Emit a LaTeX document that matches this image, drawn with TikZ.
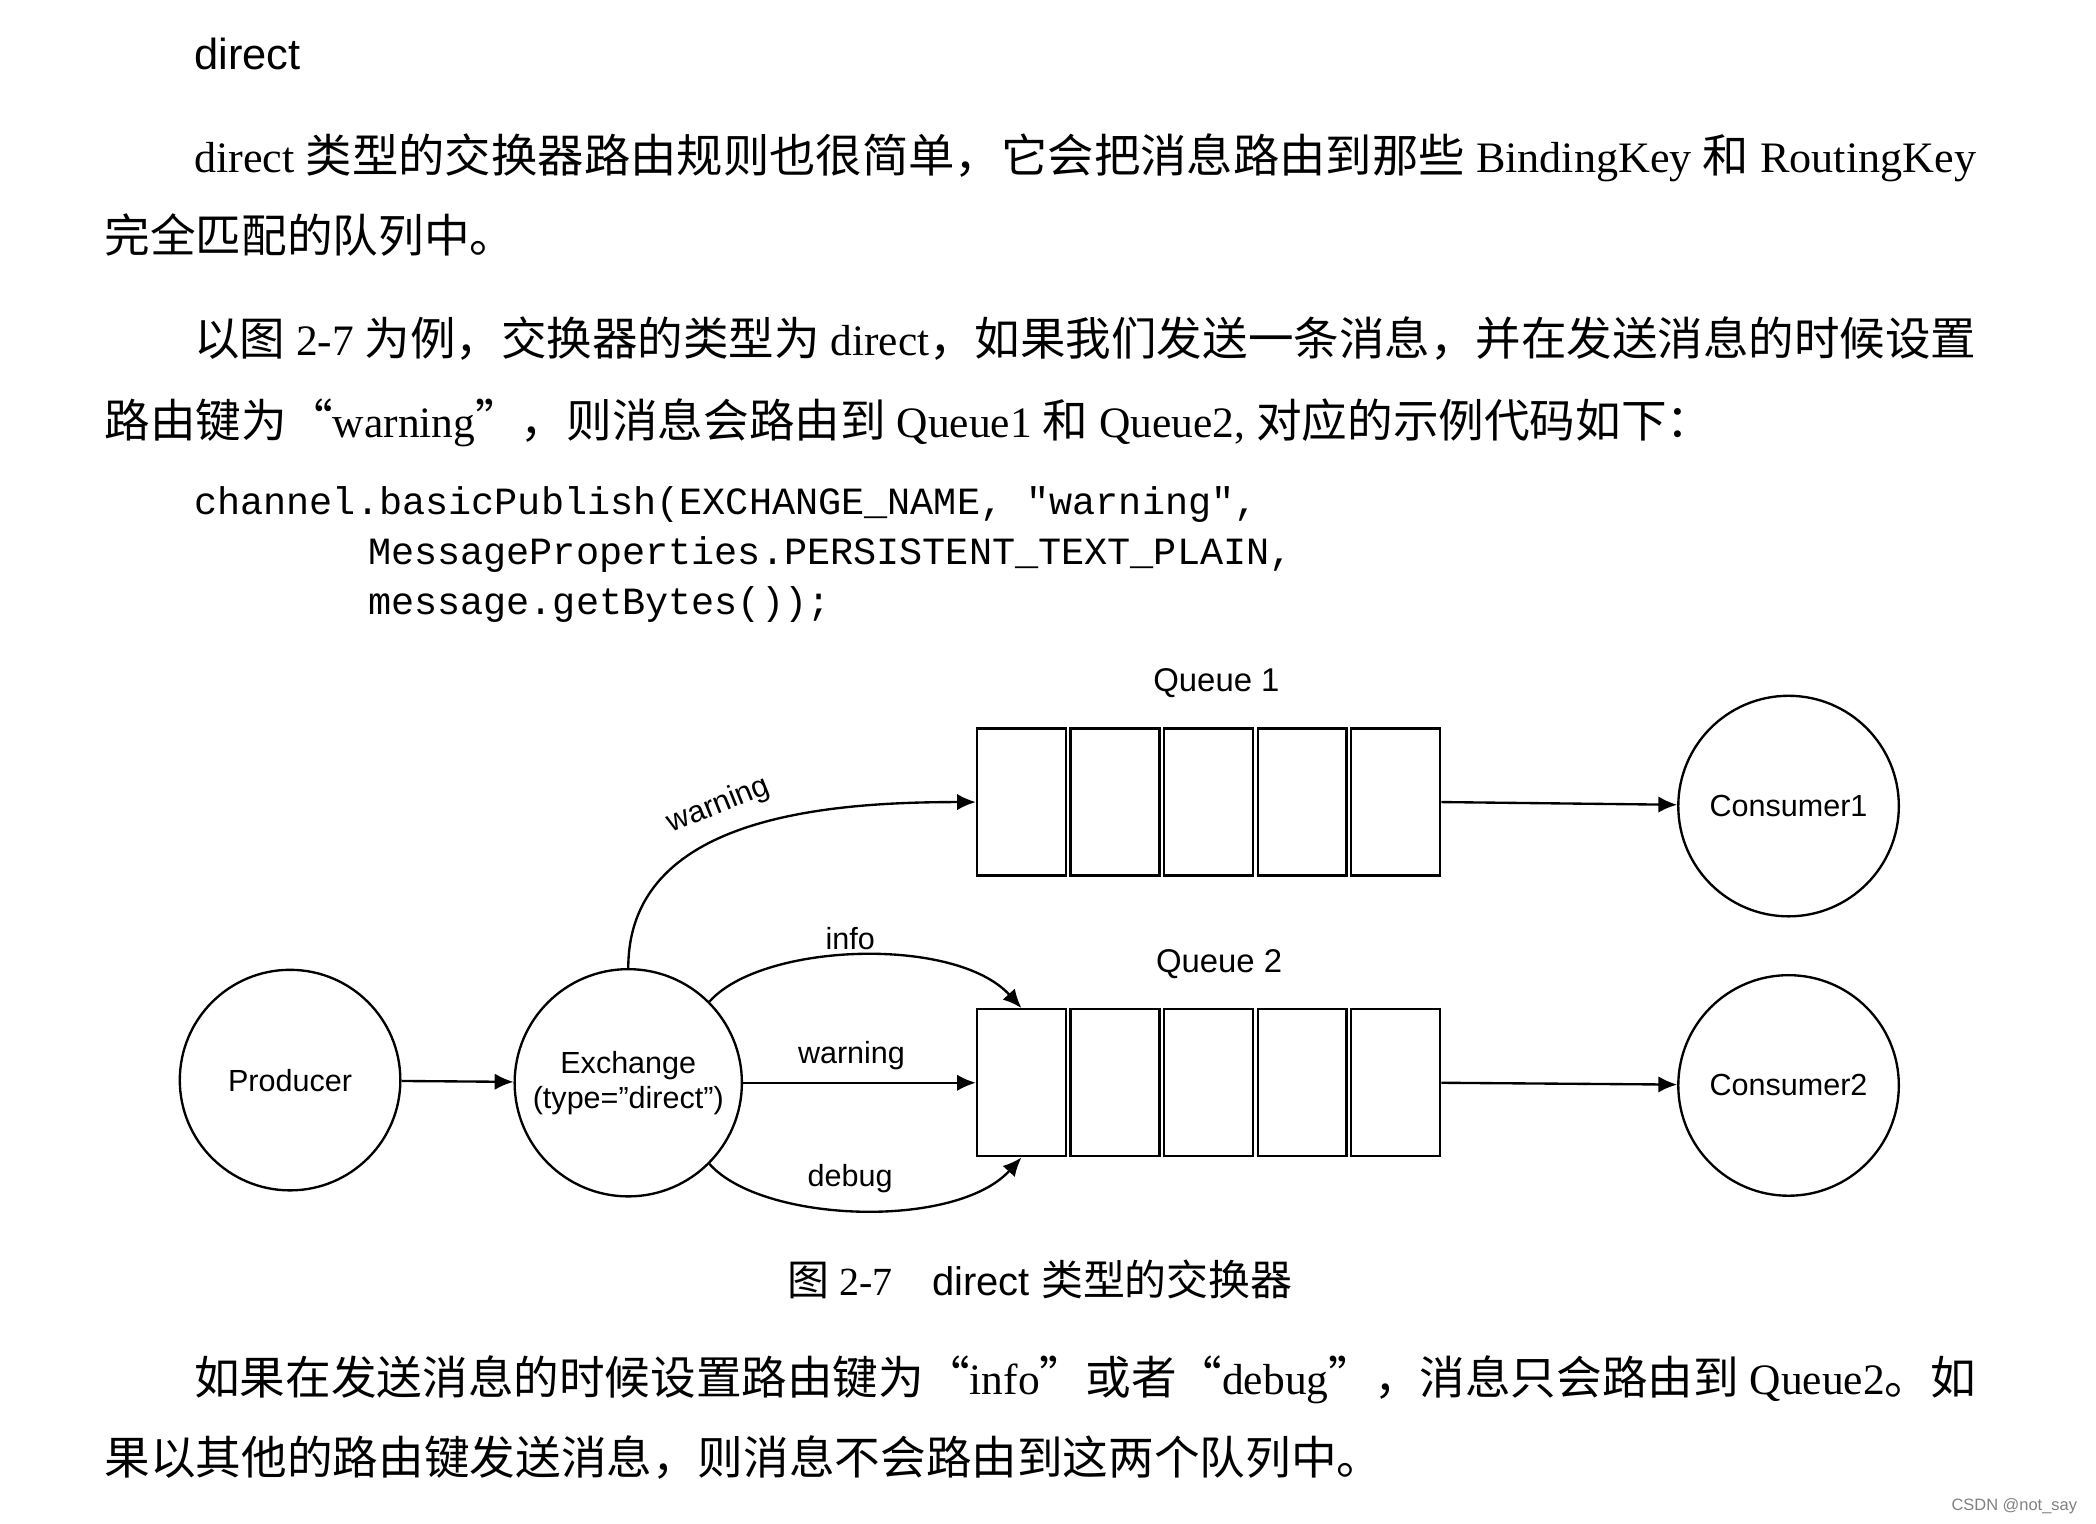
\documentclass[tikz,border=0pt]{standalone}
\usepackage{fontspec}
\usepackage{graphicx}
\setmainfont{Liberation Serif}
\setsansfont{Liberation Sans}
\setmonofont{Liberation Mono}
\newfontfamily\cjk[Scale=1.05]{Noto Sans CJK SC}
\usetikzlibrary{arrows.meta}

\newcommand{\zh}[1]{{\cjk #1}}
\newcommand{\fullline}[1]{\resizebox{26.66cm}{\height}{#1}}

\begin{document}
\begin{tikzpicture}[
    txt/.style={anchor=base west, inner sep=0pt, font=\fontsize{18.5}{22}\selectfont},
    code/.style={anchor=base west, inner sep=0pt, font=\ttfamily\fontsize{16.4}{20}\selectfont},
    lbl/.style={font=\sffamily\fontsize{13}{15}\selectfont, inner sep=1pt},
    party/.style={draw, circle, line width=1pt, minimum size=3.3cm, font=\sffamily\fontsize{13}{15}\selectfont},
    cell/.style={draw, line width=1pt, minimum width=1.33cm, minimum height=2.2cm, anchor=west, inner sep=0pt},
    arr/.style={-{Latex[length=8pt,width=7pt]}, line width=1pt}
]
    \useasboundingbox (0,0) rectangle (31.36,-22.8);

    % Texte
    \node[txt, font=\sffamily\fontsize{18.5}{22}\selectfont] (head) at (2.9,-1.04) {direct};
    \node[txt] (p1a) at (2.9,-2.58) {\fullline{direct \zh{类型的交换器路由规则也很简单，它会把消息路由到那些} BindingKey \zh{和} RoutingKey}};
    \node[txt] (p1b) at (1.56,-3.78) {\zh{完全匹配的队列中。}};
    \node[txt] (p2a) at (2.9,-5.32) {\fullline{\zh{以图} 2-7 \zh{为例，交换器的类型为} direct\zh{，如果我们发送一条消息，并在发送消息的时候设置}}};
    \node[txt] (p2b) at (1.56,-6.54) {\zh{路由键为“}warning\zh{”，则消息会路由到} Queue1 \zh{和} Queue2, \zh{对应的示例代码如下：}};

    % Code
    \node[code] (c1) at (2.9,-7.7) {channel.basicPublish(EXCHANGE\_NAME, "warning",};
    \node[code] (c2) at (5.5,-8.44) {MessageProperties.PERSISTENT\_TEXT\_PLAIN,};
    \node[code] (c3) at (5.5,-9.2) {message.getBytes());};

    % Figure
    \node[party] (prod) at (4.34,-16.16) {Producer};
    \node[party, minimum size=3.4cm, align=center] (exch) at (9.4,-16.2) {Exchange\\(type="direct")};
    \node[party] (cons1) at (26.76,-12.06) {Consumer1};
    \node[party] (cons2) at (26.76,-16.24) {Consumer2};

    \foreach \i in {1,...,5} {
        \node[cell] (q1c\i) at ({14.6+(\i-1)*1.4},-12.0) {};
        \node[cell] (q2c\i) at ({14.6+(\i-1)*1.4},-16.2) {};
    }
    \node[lbl, font=\sffamily\fontsize{14}{16}\selectfont] (q1) at (18.2,-10.22) {Queue 1};
    \node[lbl, font=\sffamily\fontsize{14}{16}\selectfont] (q2) at (18.24,-14.42) {Queue 2};

    \draw[arr] (prod) -- (exch);
    \draw[arr] (exch.north) to[out=90,in=180] (q1c1.west);
    \draw[arr] (exch.45) .. controls (11.4,-14.1) and (14.3,-14.0) .. (q2c1.north);
    \draw[arr] (exch.east) -- (q2c1.west);
    \draw[arr] (exch.-45) .. controls (11.4,-18.3) and (14.3,-18.4) .. (q2c1.south);
    \draw[arr] (q1c5.east) -- (cons1);
    \draw[arr] (q2c5.east) -- (cons2);

    \node[lbl, rotate=22] (lwarn1) at (10.75,-12.05) {warning};
    \node[lbl] (linfo) at (12.72,-14.04) {info};
    \node[lbl] (lwarn2) at (12.74,-15.8) {warning};
    \node[lbl] (ldebug) at (12.72,-17.64) {debug};

    \node[font=\fontsize{17}{20}\selectfont] (cap) at (15.56,-19.14) {\zh{图} 2-7\quad \sffamily direct \zh{类型的交换器}};

    % Texte
    \node[txt] (p3a) at (2.9,-20.86) {\fullline{\zh{如果在发送消息的时候设置路由键为“}info\zh{”或者“}debug\zh{”，消息只会路由到} Queue2\zh{。如}}};
    \node[txt] (p3b) at (1.56,-22.06) {\zh{果以其他的路由键发送消息，则消息不会路由到这两个队列中。}};

    \node[anchor=east, font=\sffamily\fontsize{7}{8}\selectfont, text=gray] (mark) at (31.2,-22.54) {CSDN @not\_say};
\end{tikzpicture}
\end{document}
